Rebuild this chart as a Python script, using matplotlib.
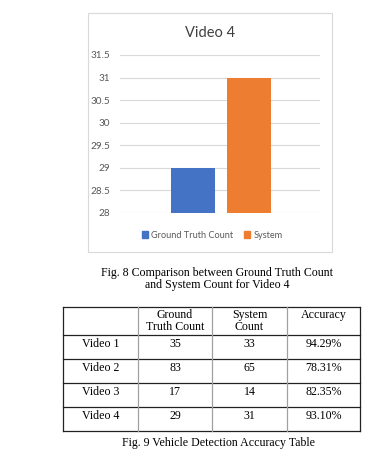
import matplotlib.pyplot as plt
from matplotlib.patches import Rectangle
from matplotlib.lines import Line2D

# Chart data
series = ["Ground Truth Count", "System"]
values = [29, 31]
colors = ["#4472c4", "#ed7d31"]
y_ticks = [28, 28.5, 29, 29.5, 30, 30.5, 31, 31.5]

# Table data
col_headers = ["", "Ground\nTruth Count", "System\nCount", "Accuracy"]
row_labels = ["Video 1", "Video 2", "Video 3", "Video 4"]
truth_counts = [35, 83, 17, 29]
system_counts = [33, 65, 14, 31]
accuracy = ["94.29%", "78.31%", "82.35%", "93.10%"]

W, H = 391, 475
fig = plt.figure(figsize=(W / 100, H / 100), dpi=100)
fig.patch.set_facecolor("white")


def fx(px):
    return px / W


def fy(py):
    return 1 - py / H


# Chart frame (behind the axes)
fig.add_artist(Rectangle((fx(88), fy(252)), fx(332) - fx(88), fy(13) - fy(252),
                         transform=fig.transFigure, facecolor="white",
                         edgecolor="#d9d9d9", lw=0.8, zorder=-1))

ax = fig.add_axes([fx(120), fy(213), fx(200), 158 / H])
ax.set_facecolor("none")
ax.bar([0, 1], [v - 28 for v in values], bottom=28, width=0.79, color=colors, zorder=3)
ax.set_ylim(28, 31.5)
ax.set_xlim(-1.30, 2.27)
ax.set_yticks(y_ticks)
ax.set_yticklabels([f"{t:g}" for t in y_ticks])
ax.set_xticks([])
ax.tick_params(axis="y", length=0, pad=7, labelsize=7.2, labelcolor="#595959")
ax.grid(axis="y", color="#d9d9d9", lw=0.8, zorder=0)
for s in ax.spines.values():
    s.set_visible(False)
for lab in ax.get_yticklabels():
    lab.set_fontfamily("Lato")

fig.text(fx(210), fy(33), "Video 4", ha="center", va="center",
         fontsize=10.5, color="#404040", family="Lato")

handles = [Rectangle((0, 0), 1, 1, color=c) for c in colors]
fig.legend(handles, series, loc="center", bbox_to_anchor=(fx(212), fy(235)),
           ncol=2, frameon=False, handlelength=0.7, handleheight=0.7,
           handletextpad=0.3, columnspacing=1.2,
           prop={"family": "Lato", "size": 6.6}, labelcolor="#595959")

serif = "Liberation Serif"
fs = 8.6
fig.text(fx(217), fy(279), "Fig. 8 Comparison between Ground Truth Count\nand System Count for Video 4",
         ha="center", va="center", fontsize=fs, family=serif, linespacing=1.0)

# Table
left, right = 63, 360
col_x = [63, 138, 212, 287, 360]
row_y = [307, 335, 359, 383, 407, 431]
for y in row_y:
    fig.add_artist(Line2D([fx(left), fx(right)], [fy(y), fy(y)], color="#222222", lw=0.9,
                          transform=fig.transFigure))
for i, x in enumerate(col_x):
    c = "#222222" if i in (0, len(col_x) - 1) else "#a0a0a0"
    fig.add_artist(Line2D([fx(x), fx(x)], [fy(row_y[0]), fy(row_y[-1])], color=c, lw=0.9,
                          transform=fig.transFigure))

centers = [(col_x[i] + col_x[i + 1]) / 2 for i in range(4)]
for j, h in enumerate(col_headers):
    if h:
        fig.text(fx(centers[j]), fy(309), h, ha="center", va="top",
                 fontsize=fs, family=serif, linespacing=1.0)
for r in range(len(row_labels)):
    cells = [row_labels[r], str(truth_counts[r]), str(system_counts[r]), accuracy[r]]
    yc = row_y[r + 1] + 9
    for j, t in enumerate(cells):
        fig.text(fx(centers[j]), fy(yc), t, ha="center", va="center",
                 fontsize=fs, family=serif)

fig.text(fx(218), fy(443), "Fig. 9 Vehicle Detection Accuracy Table",
         ha="center", va="center", fontsize=fs, family=serif)

fig.savefig("out.png", dpi=100)
